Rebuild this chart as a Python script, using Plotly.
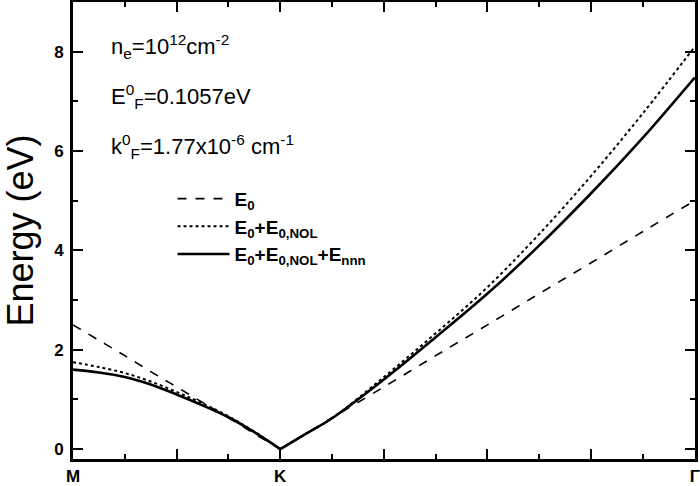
import plotly.graph_objects as go

# k-path positions (M=0, K=4, Gamma=12)
k_left = [0, 0.5, 1, 1.5, 2, 2.5, 3, 3.5, 4]
k_right = [4, 4.5, 5, 6, 7, 8, 9, 10, 11, 12]

# E0 (dashed)
e0_left = [2.5, 2.19, 1.88, 1.56, 1.25, 0.94, 0.63, 0.31, 0.0]
e0_right = [0.0, 0.31, 0.63, 1.25, 1.88, 2.5, 3.13, 3.75, 4.38, 5.0]

# E0 + E0,NOL (dotted)
nol_left = [1.75, 1.65, 1.53, 1.36, 1.15, 0.92, 0.66, 0.35, 0.0]
nol_right = [0.0, 0.31, 0.62, 1.45, 2.33, 3.26, 4.33, 5.5, 6.76, 8.1]

# E0 + E0,NOL + Ennn (solid)
nnn_left = [1.6, 1.54, 1.45, 1.3, 1.1, 0.88, 0.64, 0.34, 0.0]
nnn_right = [0.0, 0.31, 0.62, 1.4, 2.25, 3.13, 4.1, 5.15, 6.27, 7.48]

tick_pos = [0, 2, 4, 6, 8, 10, 12]
tick_txt = ["M", "", "K", "", "", "", "Γ"]

series = [
    ("E<sub>0</sub>", e0_left, e0_right, "dash", 1.6),
    ("E<sub>0</sub>+E<sub>0,NOL</sub>", nol_left, nol_right, "dot", 2),
    ("E<sub>0</sub>+E<sub>0,NOL</sub>+E<sub>nnn</sub>", nnn_left, nnn_right, "solid", 2.6),
]

fig = go.Figure()
for i, (name, left, right, dash, w) in enumerate(series):
    line = dict(color="black", dash=dash, width=w, shape="spline", smoothing=1.0)
    # the two branches meet in a cusp at K, so draw them separately
    fig.add_trace(go.Scatter(x=k_left, y=left, mode="lines", name=name,
                             legendgroup=str(i), line=line))
    fig.add_trace(go.Scatter(x=k_right, y=right, mode="lines", name=name,
                             legendgroup=str(i), showlegend=False, line=line))

font = "Liberation Sans, Arial, sans-serif"
axis_common = dict(
    showline=True, linecolor="black", linewidth=3, mirror="ticks",
    ticks="inside", ticklen=10, tickwidth=2, tickcolor="black",
    showgrid=False, zeroline=False, automargin=False, ticklabeloverflow="allow",
    tickfont=dict(family=font, size=17, color="black", weight="bold"),
)

fig.update_xaxes(
    range=[0, 12.005], tickvals=tick_pos, ticktext=tick_txt,
    minor=dict(ticks="inside", dtick=1, ticklen=5, tickwidth=1.5, tickcolor="black"),
    **axis_common,
)
fig.update_yaxes(
    range=[-0.2, 9], dtick=2, tick0=0, ticklabelstandoff=3,
    minor=dict(ticks="inside", dtick=1, ticklen=5, tickwidth=1.5, tickcolor="black"),
    title=dict(text="Energy (eV)", font=dict(family=font, size=36, color="black"), standoff=12),
    **axis_common,
)

info = [
    "n<sub>e</sub>=10<sup>12</sup>cm<sup>-2</sup>",
    "E<sup>0</sup><sub>F</sub>=0.1057eV",
    "k<sup>0</sup><sub>F</sub>=1.77x10<sup>-6</sup> cm<sup>-1</sup>",
]
for i, txt in enumerate(info):
    fig.add_annotation(
        xref="paper", yref="paper", x=0.058, y=0.903 - i * 0.11,
        text=txt, showarrow=False, xanchor="left", yanchor="middle",
        font=dict(family=font, size=22, color="black"),
    )

fig.update_layout(
    width=700, height=486,
    margin=dict(l=73, r=5, t=2, b=27),
    paper_bgcolor="white", plot_bgcolor="white",
    showlegend=True,
    legend=dict(
        x=0.16, y=0.611, xanchor="left", yanchor="top",
        bgcolor="rgba(0,0,0,0)", itemwidth=52, tracegroupgap=0,
        font=dict(family=font, size=19, color="black", weight="bold"),
    ),
)

# the page body has a default 8px margin; remove it so the figure fills the window
fig.write_html("out.html", config={"displayModeBar": False},
               post_script="document.body.style.margin = '0';")
